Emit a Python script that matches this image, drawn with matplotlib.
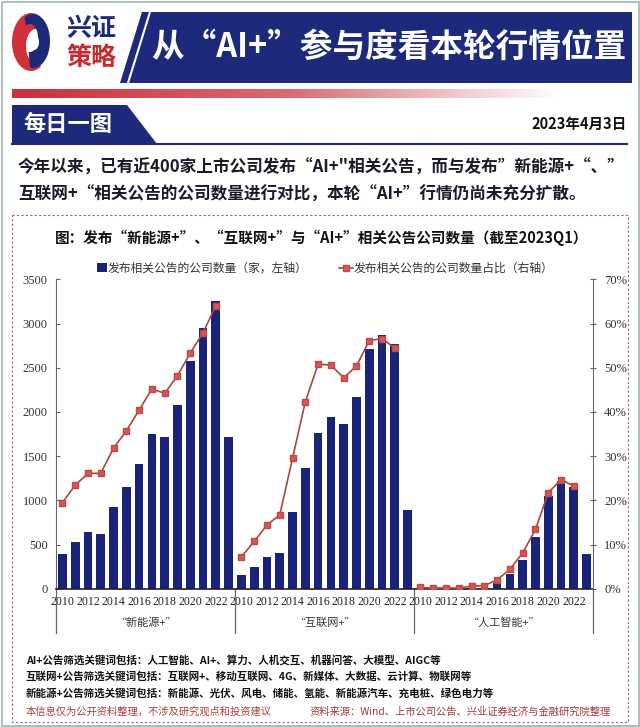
import numpy as np
import matplotlib
matplotlib.use("Agg")
import matplotlib.pyplot as plt
from matplotlib.patches import Polygon, Rectangle
from matplotlib.lines import Line2D

plt.rcParams['font.family'] = ['Noto Sans CJK SC', 'DejaVu Sans']

# ---------------- data ----------------
years = [str(y) for y in range(2010, 2024)]
groups = ['“新能源+”', '“互联网+”', '“人工智能+”']
newenergy_count = [390, 530, 640, 620, 925, 1150, 1405, 1745, 1715, 2075, 2575, 2945, 3255, 1715]
internet_count = [150, 240, 360, 400, 865, 1365, 1760, 1945, 1865, 2170, 2710, 2870, 2770, 885]
ai_count = [3, 2, 3, 2, 8, 12, 68, 170, 320, 580, 1050, 1215, 1145, 388]
newenergy_pct = [19.5, 23.4, 26.1, 26.1, 31.8, 35.7, 40.4, 45.2, 44.2, 48.2, 53.3, 57.9, 64.0]
internet_pct = [7.2, 10.7, 14.4, 16.7, 29.5, 42.3, 50.8, 50.6, 47.7, 50.4, 56.1, 56.6, 54.4]
ai_pct = [0.3, 0.1, 0.2, 0.1, 0.6, 0.7, 2.0, 4.4, 8.1, 13.4, 21.7, 24.7, 23.2]
left_ticks = [0, 500, 1000, 1500, 2000, 2500, 3000, 3500]
right_ticks = [0, 10, 20, 30, 40, 50, 60, 70]
legend_bar = '发布相关公告的公司数量（家，左轴）'
legend_line = '发布相关公告的公司数量占比（右轴）'

W, H = 640, 727
NAVY = '#1d2a7c'
BAR = '#19237a'
LINE = '#a8463f'
MARK = '#d45656'

fig = plt.figure(figsize=(W / 100, H / 100), dpi=100)
fig.patch.set_facecolor('white')

# background / decoration axes in pixel coordinates
bg = fig.add_axes([0, 0, 1, 1])
bg.set_xlim(0, W)
bg.set_ylim(H, 0)
bg.axis('off')

# outer frame
bg.add_patch(Rectangle((1.5, 1.5), W - 3, H - 3, fill=False, ec='#9fb3b0', lw=1.2))

# logo swirl
def arc_band(cx, cy, rx, ry, rx2, ry2, dx, dy, a0, a1, color):
    t = np.radians(np.linspace(a0, a1, 80))
    outer = np.c_[cx + rx * np.cos(t), cy - ry * np.sin(t)]
    inner = np.c_[cx + dx + rx2 * np.cos(t[::-1]), cy + dy - ry2 * np.sin(t[::-1])]
    bg.add_patch(Polygon(np.r_[outer, inner], closed=True, fc=color, ec='none'))

arc_band(31, 42, 19, 29, 10, 17, 5, 4, 60, 300, '#d0303a')
arc_band(33, 41, 17, 27, 8, 14, -3, -3, -100, 120, NAVY)
t = np.radians(np.linspace(0, 360, 60))
bg.add_patch(Polygon(np.c_[34 + 5 * np.cos(t), 42 + 8 * np.sin(t)], closed=True, fc='white', ec='none'))

bg.text(91, 29, '兴证', color=NAVY, fontsize=18, fontweight='bold', ha='center', va='center')
bg.text(91, 58, '策略', color='#c8282e', fontsize=18, fontweight='bold', ha='center', va='center')

# title banner
bg.add_patch(Polygon([[142, 12], [632, 12], [632, 83], [120, 83]], closed=True, fc=NAVY, ec='none'))
bg.plot([150, 128], [12, 83], color='white', lw=1.5)
bg.text(389, 47, '从“AI+”参与度看本轮行情位置', color='white', fontsize=23.5,
        fontweight='bold', ha='center', va='center')

# red gradient strip
grad = np.linspace(0, 1, 256)[None, :]
cmap = matplotlib.colors.LinearSegmentedColormap.from_list('g', ['#c9303c', '#d96a6f', '#ffffff'])
bg.imshow(grad, extent=(12, 560, 98, 89), aspect='auto', cmap=cmap, zorder=1)
bg.set_xlim(0, W)
bg.set_ylim(H, 0)

# daily tab
bg.add_patch(Polygon([[12, 105], [127, 105], [157, 144], [12, 144]], closed=True, fc=NAVY, ec='none'))
bg.plot([12, 627], [144, 144], color=NAVY, lw=1.5)
bg.text(68, 124, '每日一图', color='white', fontsize=16, fontweight='bold', ha='center', va='center')
bg.text(627, 124, '2023年4月3日', color='#111111', fontsize=10.5, fontweight='bold',
        ha='right', va='center')

# paragraph
bg.text(18, 168, '今年以来，已有近400家上市公司发布“AI+"相关公告，而与发布”新能源+“、”',
        color='#1a1a2a', fontsize=12, fontweight='bold', ha='left', va='center')
bg.text(18, 195, '互联网+“相关公告的公司数量进行对比，本轮“AI+”行情仍尚未充分扩散。',
        color='#1a1a2a', fontsize=12, fontweight='bold', ha='left', va='center')

# dotted box
bg.add_patch(Rectangle((12, 215), 616, 507, fill=False, ec='#777777', lw=0.8, ls=(0, (2, 2))))

# chart title
bg.text(322, 238, '图：发布“新能源+”、“互联网+”与“AI+”相关公告公司数量（截至2023Q1）',
        color='#111111', fontsize=10.5, fontweight='bold', ha='center', va='center')

# legend
bg.add_patch(Rectangle((97, 263), 10, 9, fc=BAR, ec='none'))
bg.text(108, 268, legend_bar, fontsize=8.5, color='#333333', ha='left', va='center')
bg.add_artist(Line2D([339, 353], [268, 268], color=LINE, lw=1.2))
bg.add_artist(Line2D([346], [268], marker='s', ms=4.5, mfc=MARK, mec='#c04848', lw=0))
bg.text(354, 268, legend_line, fontsize=8.5, color='#333333', ha='left', va='center')

# notes
notes = ['AI+公告筛选关键词包括：人工智能、AI+、算力、人机交互、机器问答、大模型、AIGC等',
         '互联网+公告筛选关键词包括：互联网+、移动互联网、4G、新媒体、大数据、云计算、物联网等',
         '新能源+公告筛选关键词包括：新能源、光伏、风电、储能、氢能、新能源汽车、充电桩、绿色电力等']
for i, n in enumerate(notes):
    bg.text(26, 660 + 16.5 * i, n, fontsize=7.6, fontweight='bold', color='#111111',
            ha='left', va='center')
bg.text(26, 712, '本信息仅为公开资料整理，不涉及研究观点和投资建议', fontsize=7.4,
        color='#b23a3a', ha='left', va='center')
bg.text(310, 712, '资料来源：Wind、上市公司公告、兴业证券经济与金融研究院整理', fontsize=7.4,
        color='#a03838', ha='left', va='center')

# ---------------- chart ----------------
x0, x1 = 56, 593
ytop, ybot = 279.3, 588.7
ax = fig.add_axes([x0 / W, (H - ybot) / H, (x1 - x0) / W, (ybot - ytop) / H])
ax.set_facecolor('none')

counts = newenergy_count + internet_count + ai_count
xs = np.arange(len(counts))
ax.bar(xs, counts, width=0.68, color=BAR, zorder=2)
ax.set_xlim(-0.5, len(counts) - 0.5)
ax.set_ylim(0, 3500)
ax.set_yticks(left_ticks)
ax.set_yticklabels([str(v) for v in left_ticks], family=['Liberation Serif'], fontsize=9, color='#333333')
tick_pos = [g * 14 + k for g in range(3) for k in range(0, 13, 2)]
ax.set_xticks(tick_pos)
ax.set_xticklabels([years[k] for g in range(3) for k in range(0, 13, 2)],
                   family=['Liberation Serif'], fontsize=8.6, color='#222222')
ax.tick_params(axis='x', length=0, pad=5)
ax.tick_params(axis='y', direction='in', length=3, color='#666666', pad=6)
ax.spines['top'].set_visible(False)
ax.spines['left'].set_color('#666666')
ax.spines['right'].set_visible(False)
ax.spines['bottom'].set_color('#222222')
ax.spines['bottom'].set_linewidth(1.2)

trans = matplotlib.transforms.blended_transform_factory(ax.transData, ax.transAxes)
for xv in [-0.5, 13.5, 27.5, 41.5]:
    ax.plot([xv, xv], [0, -0.142], transform=trans, color='#666666', lw=0.9, clip_on=False)
for g, name in enumerate(groups):
    ax.text(g * 14 + 6.5, -0.11, name, transform=trans, ha='center', va='center',
            fontsize=8, color='#333333')

ax2 = ax.twinx()
ax2.set_ylim(0, 70)
for g, pct in enumerate([newenergy_pct, internet_pct, ai_pct]):
    ax2.plot(np.arange(len(pct)) + 14 * g, pct, color=LINE, lw=1.2, marker='s', ms=4.5,
             mfc=MARK, mec='#c04848', zorder=3)
ax2.set_yticks(right_ticks)
ax2.set_yticklabels([f'{v}%' for v in right_ticks], family=['Liberation Serif'], fontsize=9, color='#333333')
ax2.tick_params(axis='y', direction='inout', length=4, color='#666666', pad=6)
for s in ['top', 'left', 'bottom']:
    ax2.spines[s].set_visible(False)
ax2.spines['right'].set_color('#666666')

fig.savefig('out.png', dpi=100)
